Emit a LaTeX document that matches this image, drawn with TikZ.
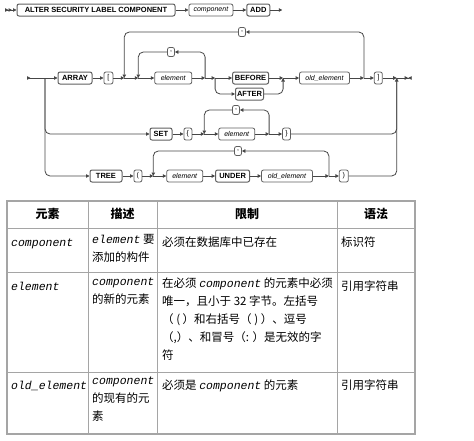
\documentclass[tikz,border=0pt]{standalone}
\usepackage{fontspec}
\setsansfont{Liberation Sans}
\newfontfamily\cjk{Noto Sans CJK SC}
\newfontfamily\codefont{Liberation Mono}
\usepackage{tikz}
\usetikzlibrary{positioning,arrows.meta}

\definecolor{linegray}{RGB}{70,70,70}
\definecolor{boxgray}{RGB}{95,95,95}
\definecolor{gridgray}{RGB}{165,165,165}
\newcommand{\varcode}[1]{{\codefont\itshape #1}}
\newcommand{\cellstrut}{\rule{0pt}{12pt}}

\begin{document}
\begin{tikzpicture}[
    x=1pt, y=-1pt,
    >={Triangle[length=3.5pt,width=3.5pt]},
    kw/.style={rectangle, rounded corners=2pt, draw=boxgray, line width=1pt, minimum height=12pt, inner sep=1.5pt, font=\sffamily\bfseries\fontsize{7.5}{8}\selectfont},
    var/.style={kw, line width=0.8pt, font=\sffamily\itshape\fontsize{7}{8}\selectfont},
    sym/.style={kw, line width=0.8pt, inner sep=0.5pt, font=\sffamily\fontsize{7}{8}\selectfont},
    sep/.style={sym, minimum height=9pt, minimum width=7pt},
    line/.style={linegray, line width=0.8pt, rounded corners=5pt},
    arrow/.style={line, ->},
    grid/.style={gridgray, line width=1pt},
    cell/.style={anchor=north west, inner sep=0pt, align=left, execute at begin node=\cellstrut, font=\cjk\fontsize{11.5}{18}\selectfont},
    head/.style={font=\cjk\bfseries\fontsize{12}{14}\selectfont}
]
\useasboundingbox (0,0) rectangle (474,440);

% first line of the statement
\coordinate (start) at (5,10);
\node[kw, minimum width=158pt] (alter) at (96,10) {ALTER SECURITY LABEL COMPONENT};
\node[var, minimum width=44pt, right=13pt of alter] (comp) {component};
\node[kw, minimum width=23pt, right=13pt of comp] (add) {ADD};
\coordinate[right=12pt of add] (wrap);

% ARRAY branch
\coordinate (contin) at (27,78);
\coordinate (fork) at (45,78);
\node[kw, minimum width=34pt] (array) at (75,78) {ARRAY};
\node[sym, minimum width=9pt, right=11pt of array] (lbrk) {[};
\coordinate[right=11pt of lbrk] (outerin);
\coordinate[right=14pt of outerin] (innerin);
\node[var, minimum width=37pt, right=16pt of innerin] (elemA) {element};
\coordinate[right=13pt of elemA] (innerout);
\coordinate[right=10pt of innerout] (pos);
\node[kw, minimum width=36pt, right=17pt of pos] (before) {BEFORE};
\node[kw, minimum width=27pt] (after) at (249.5,94) {AFTER};
\coordinate[right=14pt of before] (posend);
\node[var, minimum width=50pt, right=16pt of posend] (oldA) {old\_element};
\coordinate[right=14pt of oldA] (outerout);
\node[sym, minimum width=8pt, right=10pt of outerout] (rbrk) {]};
\coordinate[right=14pt of rbrk] (merge);
\coordinate[right=15pt of merge] (stop);
\node[sep] (commaOut) at (242,32) {,};
\node[sep] (commaIn) at (171,52) {,};

% SET branch
\node[kw, minimum width=22pt] (set) at (161,134) {SET};
\node[sym, minimum width=8pt, right=11pt of set] (lbrace) {\{};
\coordinate[right=12pt of lbrace] (setin);
\node[var, minimum width=36pt, right=14pt of setin] (elemS) {element};
\coordinate[right=14pt of elemS] (setout);
\node[sym, minimum width=8pt, right=13pt of setout] (rbrace) {\}};
\node[sep] (commaS) at (236,110) {,};

% TREE branch
\node[kw, minimum width=32pt] (tree) at (106,176) {TREE};
\node[sym, minimum width=8pt, right=11pt of tree] (lpar) {(};
\coordinate[right=11pt of lpar] (treein);
\node[var, minimum width=36pt, right=13pt of treein] (elemT) {element};
\node[kw, minimum width=34pt, right=12pt of elemT] (under) {UNDER};
\node[var, minimum width=51pt, right=11pt of under] (oldT) {old\_element};
\coordinate[right=16pt of oldT] (treeout);
\node[sym, minimum width=9pt, right=10pt of treeout] (rpar) {)};
\node[sep] (commaT) at (238,151) {,};

\draw[line, >>->] (start) -- (alter);
\draw[arrow] (alter) -- (comp);
\draw[arrow] (comp) -- (add);
\draw[arrow] (add) -- (wrap);

\draw[line, >-] (contin) -- (fork);
\draw[arrow] (fork) -- (array);
\draw[arrow] (array) -- (lbrk);
\draw[arrow] (lbrk) -- (outerin);
\draw[arrow] (outerin) -- (innerin);
\draw[arrow] (innerin) -- (elemA);
\draw[arrow] (elemA) -- (innerout);
\draw[arrow] (innerout) -- (pos);
\draw[arrow] (pos) -- (before);
\draw[arrow] (pos) |- (after);
\draw[arrow] (before) -- (posend);
\draw[arrow] (after) -| (posend);
\draw[arrow] (posend) -- (oldA);
\draw[arrow] (oldA) -- (outerout);
\draw[arrow] (outerout) -- (rbrk);
\draw[arrow] (rbrk) -- (merge);
\draw[line, -><] (merge) -- (stop);
\draw[arrow] (innerout) |- (commaIn);
\draw[arrow] (commaIn) -| (innerin);
\draw[arrow] (outerout) |- (commaOut);
\draw[arrow] (commaOut) -| (outerin);

\draw[arrow] (fork) |- (set);
\draw[arrow] (set) -- (lbrace);
\draw[arrow] (lbrace) -- (setin);
\draw[arrow] (setin) -- (elemS);
\draw[arrow] (elemS) -- (setout);
\draw[arrow] (setout) -- (rbrace);
\draw[arrow] (setout) |- (commaS);
\draw[arrow] (commaS) -| (setin);
\draw[line] (rbrace) -| (merge);

\draw[arrow] (fork) |- (tree);
\draw[arrow] (tree) -- (lpar);
\draw[arrow] (lpar) -- (treein);
\draw[arrow] (treein) -- (elemT);
\draw[arrow] (elemT) -- (under);
\draw[arrow] (under) -- (oldT);
\draw[arrow] (oldT) -- (treeout);
\draw[arrow] (treeout) -- (rpar);
\draw[arrow] (treeout) |- (commaT);
\draw[arrow] (commaT) -| (treein);
\draw[arrow] (rpar) -| (merge);

% parameter table
\draw[grid, line width=1.3pt] (7,201) rectangle (415,434);
\foreach \x in {88,157,337} \draw[grid] (\x,201) -- (\x,434);
\foreach \y in {228,272,372} \draw[grid] (7,\y) -- (415,\y);

\node[head] (h1) at (47.5,214) {元素};
\node[head] (h2) at (122.5,214) {描述};
\node[head] (h3) at (247,214) {限制};
\node[head] (h4) at (376,214) {语法};

\node[cell] (c11) at (11,234) {\varcode{component}};
\node[cell] (c12) at (92,234) {\varcode{element} 要\\添加的构件};
\node[cell] (c13) at (162,234) {必须在数据库中已存在};
\node[cell] (c14) at (341,234) {标识符};

\node[cell] (c21) at (11,278) {\varcode{element}};
\node[cell] (c22) at (92,278) {\varcode{component}\\的新的元素};
\node[cell] (c23) at (162,278) {在必须 \varcode{component} 的元素中必须\\唯一，且小于 32 字节。左括号\\（ ( ）和右括号（ ) ）、逗号\\（,）、和冒号（: ）是无效的字\\符};
\node[cell] (c24) at (341,278) {引用字符串};

\node[cell] (c31) at (11,377) {\varcode{old\_element}};
\node[cell] (c32) at (92,377) {\varcode{component}\\的现有的元\\素};
\node[cell] (c33) at (162,377) {必须是 \varcode{component} 的元素};
\node[cell] (c34) at (341,377) {引用字符串};
\end{tikzpicture}
\end{document}
